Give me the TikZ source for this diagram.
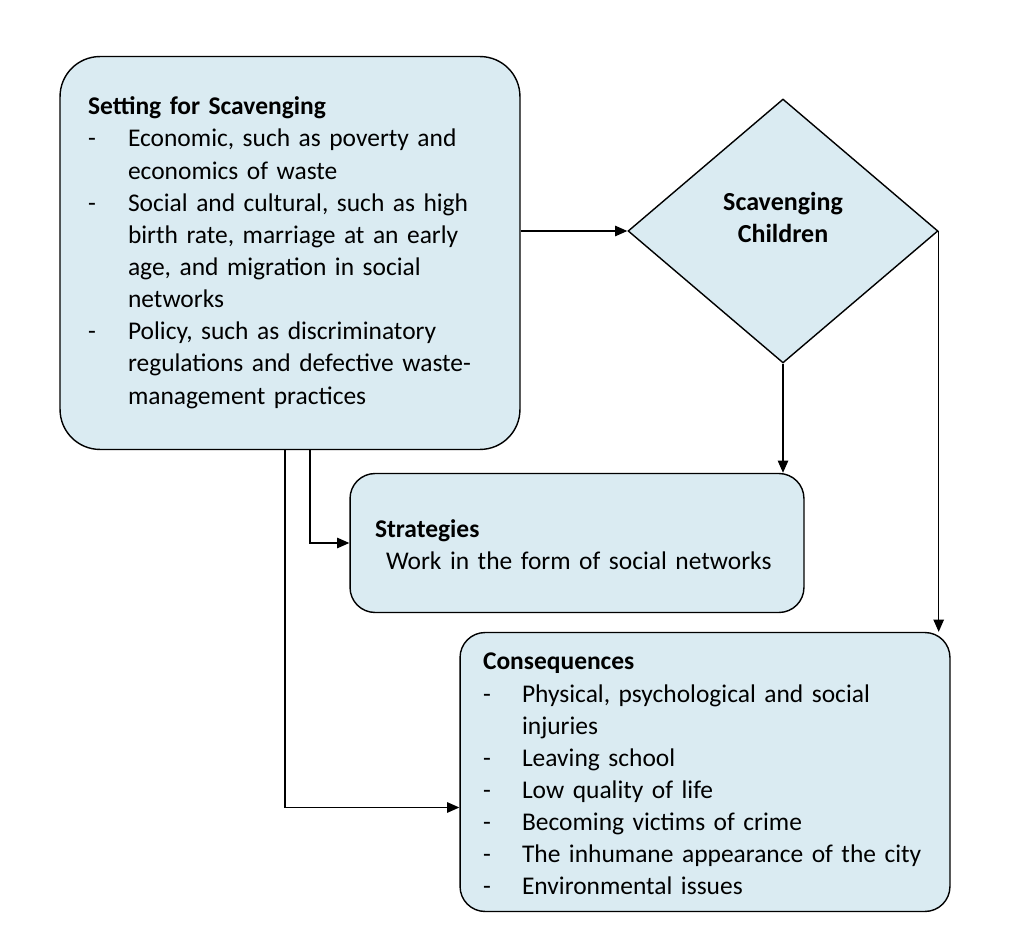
\documentclass[tikz,border=0pt]{standalone}
\usepackage{fontspec}
\setmainfont{Carlito}[WordSpace=0.7]
\usepackage{xcolor}
\usepackage{tikz}
\usetikzlibrary{shapes.geometric,arrows.meta}
\definecolor{boxblue}{RGB}{218,235,242}

\begin{document}
\begin{tikzpicture}[x=0.02cm,y=-0.02cm,
    box/.style={draw=black,line width=0.8pt,fill=boxblue,rectangle,rounded corners=0.5cm,
      align=left,inner ysep=0pt,font=\fontsize{14.5}{18.3}\selectfont},
    arr/.style={line width=0.7pt,-{Triangle[length=7pt,width=6pt]}}]
    \useasboundingbox (0,0) rectangle (1024,952);
    \node[box,rounded corners=0.8cm,text width=8.08cm,inner xsep=0.56cm,minimum height=7.86cm] (set) at (290,253) {%
      \begin{tabular}{@{}p{0.8cm}@{}l@{}}
        \multicolumn{2}{@{}l}{\bfseries Setting for Scavenging}\\
        - & Economic, such as poverty and\\
          & economics of waste\\
        - & Social and cultural, such as high\\
          & birth rate, marriage at an early\\
          & age, and migration in social\\
          & networks\\
        - & Policy, such as discriminatory\\
          & regulations and defective waste-\\
          & management practices
      \end{tabular}};
    \node[draw=black,line width=0.8pt,fill=boxblue,diamond,inner sep=0pt,minimum width=6.2cm,minimum height=5.28cm,
      font=\bfseries\fontsize{14.8}{18.3}\selectfont] (dia) at (783,231)
      {\raisebox{0.22cm}[\height][\depth]{\begin{tabular}{@{}c@{}}Scavenging\\Children\end{tabular}}};
    \node[box,text width=8.08cm,inner xsep=0.5cm,minimum height=2.78cm] (strat) at (577,543) {%
      \raisebox{-0.08cm}[\height][\depth]{\begin{tabular}{@{}l@{}}
        \bfseries Strategies\\
        \hspace{0.22cm}Work in the form of social networks
      \end{tabular}}};
    \node[box,text width=8.88cm,inner xsep=0.46cm,minimum height=5.58cm] (cons) at (705,772) {%
      \raisebox{-0.08cm}[\height][\depth]{\begin{tabular}{@{}p{0.78cm}@{}l@{}}
        \multicolumn{2}{@{}l}{\bfseries Consequences}\\
        - & Physical, psychological and social\\
          & injuries\\
        - & Leaving school\\
        - & Low quality of life\\
        - & Becoming victims of crime\\
        - & The inhumane appearance of the city\\
        - & Environmental issues
      \end{tabular}}};
    % connectors
    \draw[arr] (set.east |- dia.west) -- (dia.west);
    \draw[arr] (dia.south) -- (dia.south |- strat.north);
    \draw[arr] (dia.east) -- (dia.east |- cons.north);
    \draw[arr] ([xshift=0.4cm]set.south) |- (strat.west);
    \draw[arr] ([xshift=-0.1cm]set.south) |- ([yshift=-0.71cm]cons.west);
\end{tikzpicture}
\end{document}
